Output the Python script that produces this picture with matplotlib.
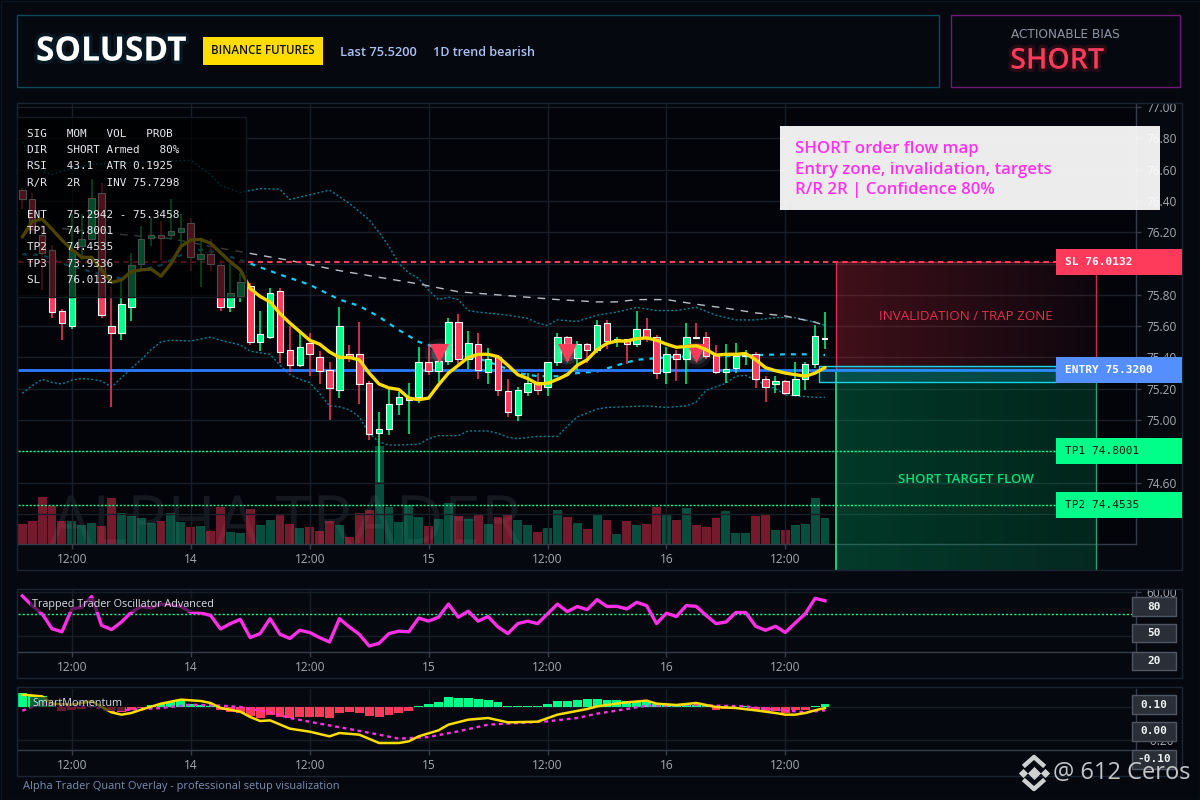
import numpy as np
import matplotlib
matplotlib.use("Agg")
import matplotlib.pyplot as plt
from matplotlib.patches import Rectangle
import matplotlib.patheffects as pe

# ---------------- data ----------------
opens = [76.47,76.41,76.18,76.09,75.695,75.60,76.11,76.155,76.45,75.60,
75.555,75.725,76.00,76.165,76.18,76.18,76.20,76.26,76.03,76.06,
75.99,75.725,75.795,75.855,75.50,75.53,75.825,75.445,75.35,75.495,
75.405,75.32,75.195,75.425,75.42,75.235,74.915,74.945,75.105,75.13,
75.145,75.37,75.315,75.375,75.625,75.39,75.485,75.305,75.405,75.185,
75.035,75.18,75.245,75.21,75.37,75.53,75.395,75.485,75.45,75.62,
75.51,75.515,75.485,75.58,75.53,75.305,75.425,75.39,75.53,75.53,
75.415,75.305,75.335,75.41,75.42,75.265,75.23,75.25,75.16,75.265,
75.355,75.52]
closes = [76.41,76.22,76.07,75.69,75.62,76.09,76.155,76.42,75.67,75.555,
75.74,75.99,76.155,76.18,76.165,76.21,76.23,76.04,76.06,76.00,
75.725,75.81,75.88,75.50,75.55,75.81,75.435,75.35,75.465,75.425,
75.315,75.205,75.60,75.40,75.23,74.91,74.945,75.105,75.145,75.145,
75.37,75.315,75.38,75.625,75.39,75.495,75.32,75.39,75.195,75.05,
75.195,75.235,75.195,75.37,75.53,75.43,75.485,75.445,75.61,75.505,
75.515,75.485,75.58,75.53,75.30,75.425,75.39,75.53,75.525,75.41,
75.305,75.325,75.41,75.415,75.265,75.21,75.25,75.175,75.265,75.355,
75.54,75.52]
highs = [76.483,76.45,76.25,76.12,75.71,76.32,76.32,76.54,76.515,75.85,
75.895,76.07,76.24,76.29,76.27,76.41,76.32,76.29,76.16,76.16,
76.02,76.00,75.94,75.875,75.70,75.845,75.845,75.60,75.565,75.555,
75.44,75.37,75.72,75.48,75.625,75.25,75.05,75.205,75.18,75.235,
75.465,75.48,75.48,75.65,75.68,75.57,75.555,75.46,75.415,75.265,
75.21,75.30,75.30,75.37,75.555,75.54,75.505,75.495,75.64,75.64,
75.53,75.52,75.70,75.65,75.545,75.465,75.445,75.62,75.62,75.565,
75.48,75.485,75.49,75.445,75.435,75.28,75.28,75.255,75.37,75.37,
75.61,75.69]
lows = [76.349,76.20,75.83,75.65,75.51,75.58,76.02,76.15,75.65,75.08,
75.51,75.635,75.96,76.11,76.02,76.15,76.09,75.95,75.85,75.955,
75.70,75.69,75.755,75.48,75.44,75.52,75.365,75.31,75.34,75.28,
75.23,75.00,75.14,75.37,75.10,74.87,74.605,74.905,75.03,74.91,
75.11,75.285,75.245,75.35,75.36,75.325,75.265,75.23,75.155,75.02,
74.995,75.155,75.16,75.155,75.345,75.38,75.32,75.365,75.43,75.455,
75.465,75.36,75.465,75.50,75.265,75.23,75.25,75.23,75.515,75.39,
75.295,75.235,75.30,75.35,75.205,75.115,75.175,75.16,75.155,75.19,
75.335,75.455]
volumes = [20.3,23.3,47.3,38.3,23.3,23.3,19.3,21.3,18.3,46.3,
31.3,28.3,26.3,21.3,23.3,31.3,22.3,17.3,18.3,13.3,
37.3,12.3,11.3,35.3,19.3,24.3,30.3,20.3,16.3,17.3,
13.3,23.3,19.3,7.3,31.3,34.3,97.7,37.3,22.3,39.3,
27.3,18.3,25.3,41.3,28.3,25.3,30.3,20.3,27.3,29.3,
24.3,19.3,12.3,16.3,34.3,27.3,21.3,15.3,30.3,24.3,
10.3,23.3,19.3,20.3,37.3,29.3,24.3,36.3,19.3,17.3,
26.3,33.3,11.3,11.3,28.3,29.3,14.3,14.3,19.3,20.3,
46.3,26.3]
ema = [76.17,76.27,76.285,76.22,76.15,76.09,76.04,76.04,75.96,75.88,
75.895,75.95,75.96,75.965,75.92,76.00,76.11,76.15,76.155,76.13,
76.07,76.01,75.96,75.84,75.79,75.755,75.68,75.62,75.565,75.51,
75.485,75.435,75.40,75.40,75.385,75.30,75.23,75.205,75.195,75.14,
75.13,75.14,75.225,75.30,75.35,75.40,75.42,75.42,75.405,75.35,
75.29,75.265,75.23,75.235,75.26,75.29,75.35,75.385,75.45,75.49,
75.505,75.505,75.52,75.525,75.51,75.485,75.465,75.47,75.475,75.45,
75.415,75.42,75.42,75.425,75.385,75.335,75.315,75.30,75.29,75.28,
75.30,75.335]
upper_i = [0,1,2,3,5,7,10,14,17,19,20,22,24,26,27,29,31,33,35,36,37,38,39,40,41,42,43,44,45,46,49,51,52,53,54,56,58,60,62,64,66,68,70,72,74,76,78,80,81]
upper_v = [76.78,76.66,76.59,76.57,76.61,76.635,76.645,76.655,76.66,76.57,76.50,76.455,76.48,76.475,76.41,76.44,76.47,76.385,76.28,76.20,76.11,76.00,75.94,75.905,75.83,75.77,75.785,75.77,75.70,75.69,75.67,75.65,75.62,75.605,75.64,75.63,75.67,75.69,75.72,75.70,75.70,75.72,75.67,75.64,75.64,75.655,75.655,75.625,75.605]
lower_i = [0,1,2,3,4,5,6,7,8,9,10,11,12,13,14,15,17,19,20,21,22,23,25,26,27,28,29,30,31,32,33,34,35,36,37,38,40,41,42,43,44,45,47,48,49,50,52,54,55,56,58,59,61,63,65,67,68,69,71,72,73,74,75,76,77,78,80,81]
lower_v = [75.17,75.22,75.26,75.24,75.23,75.255,75.265,75.26,75.25,75.21,75.27,75.33,75.385,75.45,75.50,75.51,75.505,75.53,75.51,75.495,75.48,75.44,75.42,75.35,75.29,75.26,75.24,75.17,75.09,75.085,75.065,75.02,74.915,74.86,74.84,74.84,74.845,74.88,74.90,74.90,74.90,74.93,74.93,74.915,74.89,74.88,74.895,74.895,74.96,75.02,75.07,75.08,75.085,75.09,75.08,75.09,75.115,75.19,75.235,75.28,75.285,75.255,75.225,75.20,75.16,75.155,75.145,75.145]
mid_i = [0,2,4,6,8,10,12,14,16,18,20,23,26,29,32,34,36,38,40,41,42,44,46,48,50,52,54,56,58,60,62,65,68,71,74,77,80,81]
mid_v = [76.06,76.055,76.00,75.965,75.93,75.905,75.96,75.99,76.055,76.09,76.065,76.00,75.93,75.865,75.77,75.73,75.66,75.575,75.50,75.48,75.45,75.41,75.395,75.35,75.30,75.28,75.28,75.30,75.31,75.35,75.385,75.40,75.41,75.41,75.415,75.42,75.42,75.415]
trend_i = [4,11,15,19,23,27,32,40,44,49,54,58,60,62,65,68,71,74,77,80,81]
trend_v = [76.225,76.18,76.16,76.11,76.065,76.02,75.955,75.87,75.82,75.795,75.77,75.755,75.755,75.77,75.77,75.74,75.715,75.685,75.665,75.625,75.605]
signal_i = [42,55,68]
signal_p = [75.43,75.43,75.43]
osc = [58.2,53.8,50.1,43.4,42.0,52.3,53.1,57.9,44.9,43.0,
46.4,50.8,53.4,52.8,54.5,54.2,53.4,50.8,50.5,49.4,
43.3,45.7,47.6,39.4,41.2,47.9,40.9,39.0,42.7,41.7,
39.4,37.4,47.9,44.2,40.9,35.6,36.8,41.2,42.3,42.0,
48.2,46.8,48.6,54.5,48.6,51.3,46.8,48.9,44.2,41.2,
45.7,46.8,45.7,50.1,54.5,51.1,53.4,52.0,56.5,53.4,
53.5,52.3,55.3,53.8,45.7,50.4,48.9,53.8,53.5,49.4,
45.7,46.4,50.7,50.7,44.5,42.7,44.5,41.7,46.0,50.1,
57.1,56.0]
hist = [.084,.07,.064,.01,-.026,-.016,-.012,.004,-.006,-.02,
-.032,-.02,-.006,.014,.018,.028,.04,.02,.014,.008,
-.02,-.032,-.036,-.056,-.064,-.046,-.06,-.068,-.06,-.058,
-.062,-.064,-.036,-.028,-.036,-.054,-.058,-.046,-.034,-.022,
.006,.02,.032,.058,.056,.056,.05,.044,.032,.008,
.008,.008,.008,.02,.038,.038,.044,.05,.05,.044,
.044,.036,.032,.032,.02,.016,.012,.014,.012,.008,
-.016,-.012,-.012,.004,-.02,-.024,-.024,-.036,-.02,-.016,
.008,.02]
mom_i = [0,2,3,5,7,9,10,11,12,14,16,18,19,20,22,23,24,25,27,29,31,32,34,36,38,39,40,42,43,45,47,49,52,54,57,58,61,63,64,66,68,70,72,74,76,77,78,79,80,81]
mom_v = [.074,.064,.02,.014,.034,-.032,-.046,-.036,-.016,.02,.044,.036,.024,-.006,-.028,-.06,-.084,-.08,-.13,-.148,-.176,-.156,-.166,-.216,-.216,-.206,-.176,-.14,-.106,-.076,-.066,-.092,-.088,-.046,-.012,.004,.028,.038,.02,.012,.024,0,-.006,-.02,-.036,-.046,-.046,-.036,-.02,-.006]
sig_i = [0,2,4,7,9,11,14,17,20,22,25,27,30,33,36,38,41,44,47,50,53,56,58,61,63,65,67,70,73,75,77,79,81]
sig_v = [-.022,.02,.004,.004,-.026,-.016,-.006,.014,.008,0,-.032,-.066,-.10,-.132,-.166,-.19,-.18,-.146,-.106,-.096,-.086,-.066,-.04,-.012,.008,.008,.014,.008,.004,-.012,-.02,-.032,-.02]
xtick_pos = [5,17,29,41,53,65,77]
xtick_lab = ['12:00','14','12:00','15','12:00','16','12:00']
price_ticks = [74.4,74.6,74.8,75.0,75.2,75.4,75.6,75.8,76.0,76.2,76.4,76.6,76.8,77.0]
hidden_price_labels = [74.4,74.8,76.0]
SL, ENTRY, TP1, TP2 = 76.0132, 75.32, 74.8001, 74.4535
ENT_HI, ENT_LO = 75.345, 75.245
stat_rows = ["SIG   MOM   VOL   PROB","DIR   SHORT Armed   80%","RSI   43.1  ATR 0.1925","R/R   2R    INV 75.7298","",
             "ENT   75.2942 - 75.3458","TP1   74.8001","TP2   74.4535","TP3   73.9336","SL    76.0132"]
note_rows = ["SHORT order flow map","Entry zone, invalidation, targets","R/R 2R | Confidence 80%"]
osc_boxes = ['80','50','20']
mom_boxes = ['0.10','0.00','-0.10']

# ---------------- style ----------------
W, H = 1200, 800
BG = '#05080f'; PANE = '#02040a'; GRID = '#181e27'; AXL = '#353d4a'; FRAME = '#1a2432'
TICK = '#a4abb4'; RED = '#ff3b5c'; GREEN = '#00ff88'; YEL = '#ffdd00'; MAG = '#ff2fe6'; BLUE = '#2a7bff'
SANS = ['Open Sans','DejaVu Sans']; MONO = 'DejaVu Sans Mono'
plt.rcParams['font.family'] = SANS

fig = plt.figure(figsize=(W/100, H/100), dpi=100, facecolor=BG)

def rect(x0, y0, x1, y1):
    return [x0/W, 1-y1/H, (x1-x0)/W, (y1-y0)/H]

STEP = 9.91; X0 = 22.3
def p2i(px):
    return (px-X0)/STEP
XL = (p2i(17.5), p2i(1136))
idx = np.arange(len(opens))
o, c, h, l = map(np.array, (opens, closes, highs, lows))
up = c >= o

def style(a, yticks, ylabs, top, bottom):
    a.set_xlim(*XL); a.set_ylim(bottom, top)
    a.patch.set_alpha(0)
    for s in ('top','left'):
        a.spines[s].set_visible(False)
    for s in ('bottom','right'):
        a.spines[s].set_color(AXL); a.spines[s].set_linewidth(1)
    a.yaxis.tick_right()
    a.set_yticks(yticks); a.set_yticklabels(ylabs)
    a.set_xticks(xtick_pos); a.set_xticklabels(xtick_lab)
    a.tick_params(axis='both', colors=AXL, labelcolor=TICK, labelsize=8.6, length=3.5, width=1, pad=4)
    a.tick_params(axis='x', pad=3)
    a.grid(True, color=GRID, lw=1)
    a.set_axisbelow(True)

# ---------------- main pane ----------------
MR = rect(17.5, 103, 1136, 544)
PTOP = 75+(420-103)*0.006394; PBOT = 75+(420-544)*0.006394; PEXT = 75+(420-570)*0.006394

axv = fig.add_axes(MR, zorder=1, facecolor=PANE)
axv.set_xlim(*XL); axv.set_ylim(0, 441); axv.axis('off')
axv.add_patch(Rectangle((0,0),1,1,transform=axv.transAxes,color=PANE,zorder=0))
axv.text(p2i(50), 0, 'ALPHA TRADER', fontsize=48, color='#15181e', ha='left', va='baseline',
         clip_on=True, zorder=1, family=SANS, fontweight='normal')
axv.bar(idx, volumes, width=0.9, color=[('#10a078',0.48) if u else ('#e8304e',0.5) for u in up], lw=0, zorder=2)

ax = fig.add_axes(MR, zorder=2)
style(ax, price_ticks, ['' if t in hidden_price_labels else f'{t:.2f}' for t in price_ticks], PTOP, PBOT)

def gradient(a, x0, x1, y0, y1, rgb, a0, a1):
    g = np.zeros((2, 256, 4)); g[..., :3] = rgb
    g[..., 3] = np.linspace(a0, a1, 256)
    a.imshow(g, extent=(x0, x1, y0, y1), aspect='auto', zorder=3, clip_on=False, interpolation='bilinear')

ZL, ZR, LBL = p2i(836), p2i(1095.6), p2i(1056)
gradient(ax, ZL, ZR, ENTRY, SL, (1.0, 0.2, 0.3), 0.25, 0.05)
gradient(ax, ZL, ZR, PEXT, ENTRY, (0.0, 0.85, 0.5), 0.25, 0.16)
ax.set_xlim(*XL); ax.set_ylim(PBOT, PTOP)
ax.vlines([ZL, ZR], ENTRY, SL, color=RED, lw=1, alpha=.8, zorder=4)
ax.vlines(ZL, PEXT, ENTRY, color='#2fe08a', lw=1.2, zorder=4, clip_on=False)
ax.vlines(ZR, PEXT, ENTRY, color='#2a9f78', lw=1, zorder=4, clip_on=False)
ax.hlines(SL, ZL, ZR, color=RED, lw=.8, alpha=.5, zorder=4)
ax.hlines(ENTRY, ZL, ZR, color='#2fe08a', lw=1.2, zorder=4)

ax.plot(upper_i, upper_v, color='#0f7d92', lw=1, ls=(0,(1.5,1.5)), zorder=5)
ax.plot(lower_i, lower_v, color='#0f7d92', lw=1, ls=(0,(1.5,1.5)), zorder=5)
ax.plot(trend_i, trend_v, color='#b9bec5', lw=1, ls=(0,(5.5,5)), zorder=5)
ax.plot(mid_i, mid_v, color='#12cdf5', lw=1.6, ls=(0,(2.2,2.7)), zorder=5)

ax.hlines(SL, XL[0], LBL, color=RED, lw=1.5, ls=(0,(2.6,2)), zorder=6)
ax.hlines([TP1, TP2], XL[0], LBL, color=GREEN, lw=1, ls=(0,(1.5,1.2)), zorder=6)
ax.hlines(ENTRY, XL[0], LBL, color=BLUE, lw=2, zorder=6)
ax.add_patch(Rectangle((p2i(818.5), ENT_LO), LBL-p2i(818.5), ENT_HI-ENT_LO, fc=(0.1,0.8,0.95,0.18), ec='#19d3e6', lw=1, zorder=6))

cols = [GREEN if u else RED for u in up]
ax.vlines(idx, l, h, colors=cols, lw=1.1, zorder=7)
body_lo = np.minimum(o, c); body_h = np.abs(c-o)
flat = body_h < 0.004
ax.bar(idx[~flat], body_h[~flat], bottom=body_lo[~flat], width=0.66, color=np.array(cols)[~flat], edgecolor='#f2fff8', lw=0.8, zorder=8)
ax.hlines(c[flat], idx[flat]-.35, idx[flat]+.35, color='#ffffff', lw=1.4, zorder=8)

for r, al in ((15, .06), (11, .10), (8, .14)):
    ax.scatter(signal_i, signal_p, s=(r*2*.72)**2, color='#ffffff', alpha=al, lw=0, zorder=8.5)
ax.scatter(signal_i, signal_p, s=190, marker='v', color=RED, lw=0, zorder=9)
ax.plot(idx, ema, color=YEL, lw=2.4, zorder=10, solid_capstyle='round')

# ---------------- oscillator pane ----------------
a1 = fig.add_axes(rect(17.5, 591, 1136, 652), zorder=2, facecolor=PANE)
style(a1, [40, 60], ['', '60.00'], 60.4, 32.9)
a1.hlines(50, XL[0], p2i(1132), color=GREEN, lw=1, ls=(0,(1.5,1.5)), zorder=3)
a1.plot(idx, osc, color=MAG, lw=2.4, zorder=4, solid_joinstyle='round')

# ---------------- momentum pane ----------------
a2 = fig.add_axes(rect(17.5, 689, 1136, 750), zorder=2, facecolor=PANE)
style(a2, [-0.2, 0.0], ['-0.20', ''], 0.108, -0.258)
a2.bar(idx, hist, width=0.9, color=[GREEN if v >= 0 else RED for v in hist], lw=0, zorder=3)
a2.plot(sig_i, sig_v, color=MAG, lw=1.7, ls=(0,(1.6,1.6)), zorder=4)
a2.plot(mom_i, mom_v, color=YEL, lw=1.8, zorder=5)

# ---------------- overlay (chrome & labels) ----------------
ov = fig.add_axes([0,0,1,1], zorder=20)
ov.set_xlim(0, W); ov.set_ylim(H, 0); ov.axis('off'); ov.patch.set_alpha(0)

def R(x0, y0, x1, y1, **k):
    k.setdefault('lw', 1)
    ov.add_patch(Rectangle((x0,y0), x1-x0, y1-y0, **k))
def T(x, y, s, **k):
    k.setdefault('va', 'center')
    return ov.text(x, y, s, **k)

def py(a, v):
    return H - a.transData.transform((0, v))[1]

# masks for clipped tick labels
R(1137, 92, 1181, 103, fc=BG, ec='none')
R(1137, 578, 1181, 590, fc=BG, ec='none')

# frames
R(17, 103, 1182, 570, fc='none', ec=FRAME)
R(17, 589, 1182, 678, fc='none', ec=FRAME)
R(17, 687, 1182, 776, fc='none', ec=FRAME)
R(17, 15, 939, 87, fc='none', ec='#0f4a5a')
R(951, 15, 1180, 87, fc='none', ec='#6a1b72')
R(0.5, 0.5, 1199.5, 799.5, fc='none', ec='#0c1420')

# header
T(36, 52, 'SOLUSDT', color='white', fontsize=24.1, fontweight='bold', family=SANS,
  path_effects=[pe.withStroke(linewidth=5, foreground='#0c2c3a', alpha=.45)])
R(203, 37, 323, 65, fc=YEL, ec='none')
T(263, 51, 'BINANCE FUTURES', color='#111111', fontsize=8.3, ha='center', fontweight='semibold')
T(340, 52, 'Last 75.5200', color='#a9c2f2', fontsize=9.3, fontweight='semibold')
T(433, 52, '1D trend bearish', color='#a9c2f2', fontsize=9.1, fontweight='semibold')
T(1065.5, 35, 'ACTIONABLE BIAS', color='#8d95a3', fontsize=8.7, ha='center', family='DejaVu Sans')
T(1057, 61, 'SHORT', color=RED, fontsize=20.5, ha='center', fontweight='semibold',
  path_effects=[pe.withStroke(linewidth=5, foreground='#5a1020', alpha=.4)])

# stats box
R(17, 117, 246, 297, fc=(0,0,0,0.7), ec='#141a22')
for ry, row in zip((134,150,166,183,199,215,231,247,264,280), stat_rows):
    T(27, ry, row, color='#e6e9ee', fontsize=7.95, family=MONO)

# note box
R(780, 126, 1160, 210, fc=(1,1,1,0.93), ec='none')
for ry, row in zip((149,170,190), note_rows):
    T(795, ry, row, color='#ff33ee', fontsize=12.1, fontweight='semibold')

# zones text
T(966, 316.5, 'INVALIDATION / TRAP ZONE', color='#e0324f', fontsize=9.6, ha='center', fontweight='medium')
T(966, 479.5, 'SHORT TARGET FLOW', color='#00e07c', fontsize=9.5, ha='center', fontweight='semibold')

# level labels
for name, val, fc, tc, txt in (('SL', SL, RED, 'white', f'SL {SL:.4f}'),
                               ('ENTRY', ENTRY, '#558fff', 'white', f'ENTRY {ENTRY:.4f}'),
                               ('TP1', TP1, GREEN, '#06150e', f'TP1 {TP1:.4f}'),
                               ('TP2', TP2, GREEN, '#06150e', f'TP2 {TP2:.4f}')):
    yc = py(ax, val)
    R(1056, yc-13, 1182, yc+13, fc=fc, ec='none')
    T(1065, yc, txt, color=tc, fontsize=8.05, family=MONO, fontweight='bold' if tc == 'white' else 'normal')

# pane labels
R(30, 598, 221, 612, fc=(0.02,0.03,0.05,0.62), ec='none')
T(32, 605, 'Trapped Trader Oscillator Advanced', color='#d9dde3', fontsize=7.8)
R(30, 697, 125, 711, fc=(0.02,0.03,0.05,0.62), ec='none')
T(32, 703.5, 'SmartMomentum', color='#d9dde3', fontsize=7.8)

# value boxes
for (y0, y1), s in zip(((597,616),(624,642),(652,670)), osc_boxes):
    R(1132, y0, 1176, y1, fc='#2a2f37', ec='#4e5663')
    T(1154, (y0+y1)/2, s, color='#f0f3f6', fontsize=8, family=MONO, ha='center', fontweight='bold')
for (y0, y1), s in zip(((695,714),(722,741),(750,769)), mom_boxes):
    R(1132, y0, 1176, y1, fc='#2a2f37', ec='#4e5663')
    T(1154, (y0+y1)/2, s, color='#f0f3f6', fontsize=8, family=MONO, ha='center', fontweight='bold')

# footer
T(23, 787, 'Alpha Trader Quant Overlay - professional setup visualization', color='#7b8fb2', fontsize=7.95)

# site watermark
G = '#cfd0d2'
ov.scatter([1034], [773], s=45, marker='D', color=G, lw=0, zorder=30)
ov.scatter([1023, 1045], [773, 773], s=22, marker='D', color=G, lw=0, zorder=30)
ov.plot([1025,1034,1043], [765,757,765], color=G, lw=3.2, zorder=30)
ov.plot([1025,1034,1043], [781,789,781], color=G, lw=3.2, zorder=30)
T(1053, 773, '@ 612 Ceros', color=G, fontsize=17, zorder=30, alpha=.95)

fig.savefig('out.png', dpi=100, facecolor=BG)
